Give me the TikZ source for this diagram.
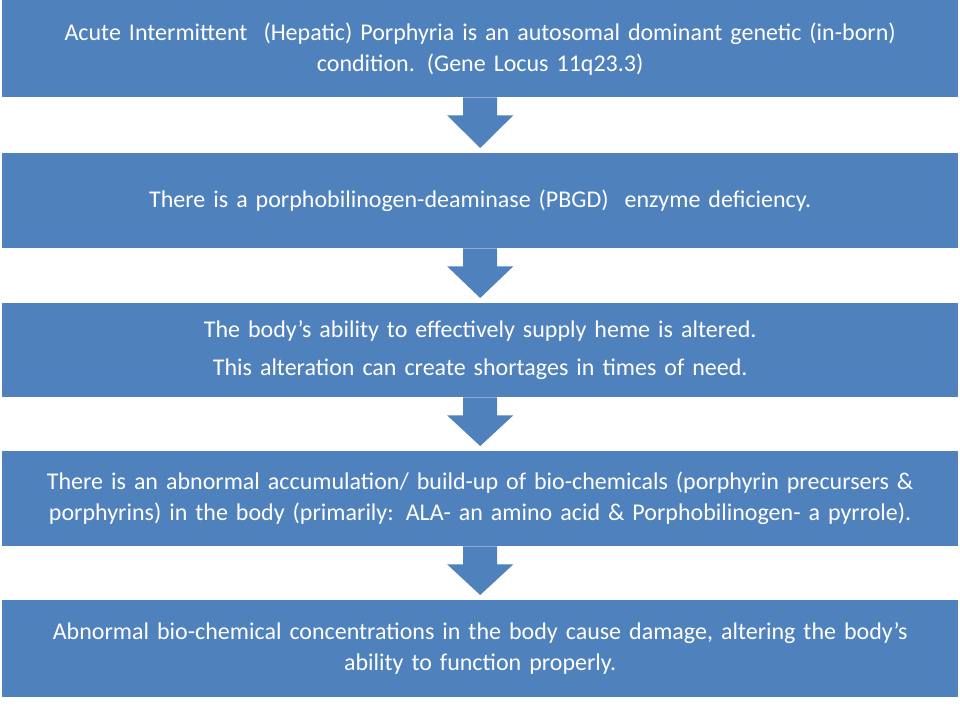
\documentclass[tikz,border=0pt]{standalone}
\usepackage{fontspec}
\usetikzlibrary{calc}
\setmainfont{Carlito}
\definecolor{boxblue}{HTML}{4F81BD}
\begin{document}
\begin{tikzpicture}[x=1pt,y=-1pt,
  stepbox/.style={fill=boxblue,draw=none,minimum width=956pt,inner sep=0pt,text=white,font=\fontsize{24}{31}\selectfont,align=center,anchor=north west,text width=945pt},
  arr/.style={fill=boxblue,draw=none}]
\useasboundingbox (0,0) rectangle (960,720);
\fill[white] (0,0) rectangle (960,720);
\node[stepbox,minimum height=97pt] (b1) at (2,0) {Acute Intermittent~ (Hepatic) Porphyria is an autosomal dominant genetic (in-born)\\condition. (Gene Locus 11q23.3)};
\node[stepbox,minimum height=95pt] (b2) at (2,153) {There is a porphobilinogen-deaminase (PBGD)~ enzyme deficiency.};
\node[stepbox,minimum height=94pt,font=\fontsize{24}{38}\selectfont] (b3) at (2,303) {The body’s ability to effectively supply heme is altered.\\This alteration can create shortages in times of need.};
\node[stepbox,minimum height=95pt] (b4) at (2,451) {There is an abnormal accumulation/ build-up of bio-chemicals (porphyrin precursers \&\\porphyrins) in the body (primarily: ALA- an amino acid \& Porphobilinogen- a pyrrole).};
\node[stepbox,minimum height=97pt] (b5) at (2,600) {Abnormal bio-chemical concentrations in the body cause damage, altering the body’s\\ability to function properly.};
\foreach \a/\b in {b1/b2,b2/b3,b3/b4,b4/b5}{
  \path (\a.south) coordinate (s) (\b.north) coordinate (t);
  \fill[arr] ($(s)+(-17,0)$) -- ($(s)+(17,0)$) -- ($(s)+(17,18)$) -- ($(s)+(33,18)$) -- ($(t)+(0,-5)$) -- ($(s)+(-33,18)$) -- ($(s)+(-17,18)$) -- cycle;
}
\end{tikzpicture}
\end{document}
